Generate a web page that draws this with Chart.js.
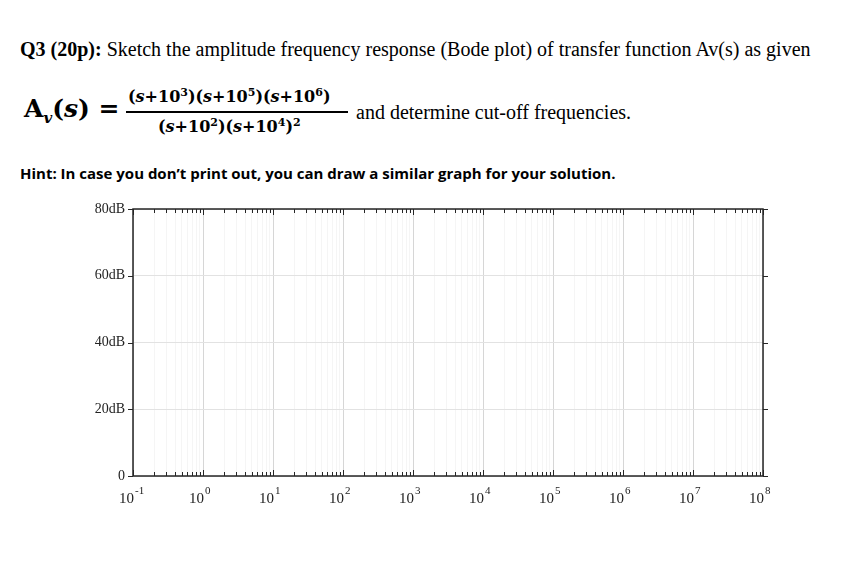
<!DOCTYPE html>
<html><head><meta charset="utf-8">
<script src="https://cdn.jsdelivr.net/npm/chart.js"></script>
<style>
body{margin:0;background:#fff;width:851px;height:564px;overflow:hidden;position:relative;font-family:"Liberation Serif","Times New Roman",serif;color:#000}
.t{position:absolute;white-space:nowrap}
#wrap{position:absolute;left:0;top:0;width:851px;height:564px}
</style></head><body>
<div class="t" style="left:20px;top:38px;font-size:20px"><b>Q3 (20p):</b> Sketch the amplitude frequency response (Bode plot) of transfer function Av(s) as given</div>
<div class="t" style="left:24px;top:94px;font-size:25px;font-family:'DejaVu Serif',serif;font-weight:bold">A<sub style="font-size:15px;font-style:italic">v</sub>(<i>s</i>) =</div>
<div class="t" style="left:128px;top:86px;font-size:16px;font-family:'DejaVu Serif',serif;font-weight:bold">(<i>s</i>+10<sup style="font-size:11px">3</sup>)(<i>s</i>+10<sup style="font-size:11px">5</sup>)(<i>s</i>+10<sup style="font-size:11px">6</sup>)</div>
<div style="position:absolute;left:126px;top:111px;width:222px;height:1.5px;background:#000"></div>
<div class="t" style="left:158px;top:116px;font-size:16px;font-family:'DejaVu Serif',serif;font-weight:bold">(<i>s</i>+10<sup style="font-size:11px">2</sup>)(<i>s</i>+10<sup style="font-size:11px">4</sup>)<sup style="font-size:11px">2</sup></div>
<div class="t" style="left:356px;top:101px;font-size:20px">and determine cut-off frequencies.</div>
<div class="t" style="left:20px;top:163px;font-size:15px;font-family:'Open Sans',sans-serif;font-weight:bold">Hint: In case you don’t print out, you can draw a similar graph for your solution.</div>
<div id="wrap"><canvas id="c"></canvas></div>
<script>
const xDecades=[-1,0,1,2,3,4,5,6,7,8];
const yTicks=[0,20,40,60,80];
const yLabels=['0','20dB','40dB','60dB','80dB'];
const xMin=0.1,xMax=1e8;
const minorTicks=[];
xDecades.forEach(d=>{for(let m=1;m<=9;m++){const v=m*Math.pow(10,d);if(v<=xMax*1.0001)minorTicks.push({v,m});}});
const deco={id:'deco',afterDraw(ch){
 const c=ch.ctx,a=ch.chartArea,xs=ch.scales.x,ys=ch.scales.y;
 c.save();c.strokeStyle='#262626';c.lineWidth=1;
 minorTicks.forEach(t=>{const x=Math.round(xs.getPixelForValue(t.v))+0.5;const L=t.m===1?6:4;
  c.beginPath();c.moveTo(x,a.bottom);c.lineTo(x,a.bottom-L);c.moveTo(x,a.top);c.lineTo(x,a.top+L);c.stroke();});
 yTicks.forEach(v=>{const y=Math.round(ys.getPixelForValue(v))+0.5;
  c.beginPath();c.moveTo(a.left-5,y);c.lineTo(a.left,y);c.moveTo(a.right,y);c.lineTo(a.right+5,y);c.stroke();});
 c.lineWidth=1.5;c.strokeRect(a.left,a.top,a.right-a.left,a.bottom-a.top);
 c.fillStyle='#222';c.font='14px "Liberation Serif"';c.textAlign='right';c.textBaseline='middle';
 yTicks.forEach((v,i)=>c.fillText(yLabels[i],a.left-8,ys.getPixelForValue(v)));
 xDecades.forEach(d=>{const x=xs.getPixelForValue(Math.pow(10,d));
  c.font='15px "Liberation Serif"';c.textAlign='right';c.textBaseline='alphabetic';c.fillText('10',x+1,503);
  c.font='11px "Liberation Serif"';c.textAlign='left';c.fillText(String(d),x+2,494);});
 c.restore();}};
new Chart(document.getElementById('c'),{type:'line',data:{datasets:[{data:[]}]},
 options:{responsive:true,maintainAspectRatio:false,animation:false,
 layout:{padding:{left:133,right:88,top:209,bottom:88}},
 plugins:{legend:{display:false},tooltip:{enabled:false}},
 scales:{
  x:{type:'logarithmic',min:xMin,max:xMax,
   afterBuildTicks(s){s.ticks=minorTicks.map(t=>({value:t.v,major:t.m===1}));},
   ticks:{display:false},border:{display:false},
   grid:{drawTicks:false,color:c=>c.tick&&c.tick.major?'#d6d6d6':'#f5f5f5'}},
  y:{min:0,max:80,afterBuildTicks(s){s.ticks=yTicks.map(v=>({value:v}));},
   ticks:{display:false},border:{display:false},grid:{drawTicks:false,color:'#e2e2e2'}}}},
 plugins:[deco]});
</script></body></html>
